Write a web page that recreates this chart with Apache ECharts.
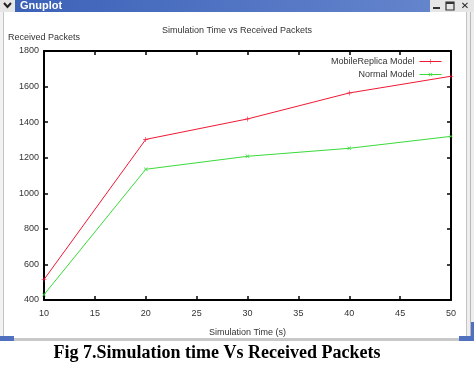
<!DOCTYPE html>
<html><head><meta charset="utf-8">
<script src="https://cdn.jsdelivr.net/npm/echarts@6/dist/echarts.min.js"></script>
<style>html,body{margin:0;padding:0;background:#fff}#c{width:474px;height:365px}</style>
</head><body><div id="c"></div>
<script>
const simTime = [10, 20, 30, 40, 50];
const mobileReplica = [515, 1303, 1418, 1564, 1658];
const normalModel = [430, 1135, 1208, 1253, 1320];
const seriesNames = ['MobileReplica Model', 'Normal Model'];
const chartTitle = 'Simulation Time vs Received Packets';
const xName = 'Simulation Time (s)';
const yName = 'Received Packets';
const caption = 'Fig 7.Simulation time Vs Received Packets';

const F = 'Liberation Sans';
const txt = {fontFamily: F, fontSize: 9, color: '#333'};
const plus = 'path://M0,4L9,4L9,5L0,5ZM4,0L5,0L5,9L4,9Z';
const frame = {lineStyle: {color: '#000', width: 2}};
const tick = {inside: true, length: 4, lineStyle: {color: '#000', width: 1.5}};
const legendCommon = {orient: 'vertical', align: 'right', right: 32, itemWidth: 22, itemHeight: 6, padding: 0, textStyle: txt, lineStyle: {width: 1}};

const chart = echarts.init(document.getElementById('c'), null, {renderer: 'canvas'});
chart.setOption({
  backgroundColor: '#fff',
  animation: false,
  title: {text: chartTitle, left: 'center', top: 26, textStyle: Object.assign({fontWeight: 'normal'}, txt), itemGap: 0, padding: 0},
  grid: {left: 44, right: 23, top: 51, bottom: 65},
  legend: [
    Object.assign({data: [seriesNames[0]], top: 57}, legendCommon),
    Object.assign({data: [seriesNames[1]], top: 70}, legendCommon)
  ],
  xAxis: [
    {type: 'value', min: 10, max: 50, interval: 5, position: 'bottom',
     name: xName, nameLocation: 'middle', nameGap: 28, nameTextStyle: txt,
     axisLine: frame, axisTick: tick, splitLine: {show: false},
     axisLabel: Object.assign({margin: 9}, txt)},
    {type: 'value', min: 10, max: 50, interval: 5, position: 'top',
     axisLine: frame, axisTick: tick, splitLine: {show: false}, axisLabel: {show: false}}
  ],
  yAxis: [
    {type: 'value', min: 400, max: 1800, interval: 200, position: 'left',
     name: yName, nameLocation: 'end', nameGap: 9, nameTextStyle: txt,
     axisLine: frame, axisTick: tick, splitLine: {show: false},
     axisLabel: Object.assign({margin: 5, formatter: v => String(v)}, txt)},
    {type: 'value', min: 400, max: 1800, interval: 200, position: 'right',
     axisLine: frame, axisTick: tick, splitLine: {show: false}, axisLabel: {show: false}}
  ],
  series: [
    {name: seriesNames[0], type: 'line', data: simTime.map((x, i) => [x, mobileReplica[i]]),
     symbol: plus, symbolSize: 5, color: '#f01834', lineStyle: {width: 1}, itemStyle: {color: '#f01834'}},
    {name: seriesNames[1], type: 'line', data: simTime.map((x, i) => [x, normalModel[i]]),
     symbol: plus, symbolSize: 5, symbolRotate: 45, color: '#3ada3a', lineStyle: {width: 1}, itemStyle: {color: '#3ada3a'}}
  ],
  graphic: {elements: [
    {type: 'rect', shape: {x: 0, y: 0, width: 474, height: 12}, style: {fill: '#e6e6e6'}},
    {type: 'rect', shape: {x: 15, y: 0, width: 415, height: 12},
     style: {fill: new echarts.graphic.LinearGradient(0, 0, 1, 0, [{offset: 0, color: '#3c62b8'}, {offset: 1, color: '#6484cc'}])}},
    {type: 'polyline', shape: {points: [[4, 3], [7.5, 7], [11, 3]]}, style: {stroke: '#222', lineWidth: 2, fill: null}},
    {type: 'text', x: 20, y: 6, style: {text: 'Gnuplot', fill: '#fff', font: 'bold 11px Liberation Sans', verticalAlign: 'middle'}},
    {type: 'rect', shape: {x: 433, y: 7, width: 7, height: 2}, style: {fill: '#333'}},
    {type: 'rect', shape: {x: 446, y: 2, width: 8, height: 8}, style: {fill: null, stroke: '#333', lineWidth: 1.2}},
    {type: 'rect', shape: {x: 446, y: 2, width: 8, height: 2}, style: {fill: '#333'}},
    {type: 'text', x: 465, y: 6, style: {text: '✕', fill: '#222', font: 'bold 10px DejaVu Sans', align: 'center', verticalAlign: 'middle'}},
    {type: 'rect', shape: {x: 0, y: 12, width: 3, height: 327}, style: {fill: '#f2f2f2'}},
    {type: 'line', shape: {x1: 3.5, y1: 12, x2: 3.5, y2: 338}, style: {stroke: '#c4c4c4', lineWidth: 1}},
    {type: 'rect', shape: {x: 467, y: 12, width: 7, height: 327}, style: {fill: '#eeeeee'}},
    {type: 'line', shape: {x1: 466.5, y1: 12, x2: 466.5, y2: 338}, style: {stroke: '#c4c4c4', lineWidth: 1}},
    {type: 'line', shape: {x1: 470.5, y1: 12, x2: 470.5, y2: 338}, style: {stroke: '#b8b8b8', lineWidth: 1}},
    {type: 'rect', shape: {x: 0, y: 338, width: 474, height: 3}, style: {fill: '#c8c8c8'}},
    {type: 'rect', shape: {x: 0, y: 336, width: 14, height: 5}, style: {fill: '#5070c0'}},
    {type: 'rect', shape: {x: 459, y: 336, width: 15, height: 5}, style: {fill: '#5070c0'}},
    {type: 'rect', shape: {x: 471, y: 322, width: 3, height: 19}, style: {fill: '#5070c0'}},
    {type: 'text', x: 217, y: 353, style: {text: caption, fill: '#000', font: 'bold 18px Liberation Serif', align: 'center', verticalAlign: 'middle'}}
  ]}
});
</script>
</body></html>
